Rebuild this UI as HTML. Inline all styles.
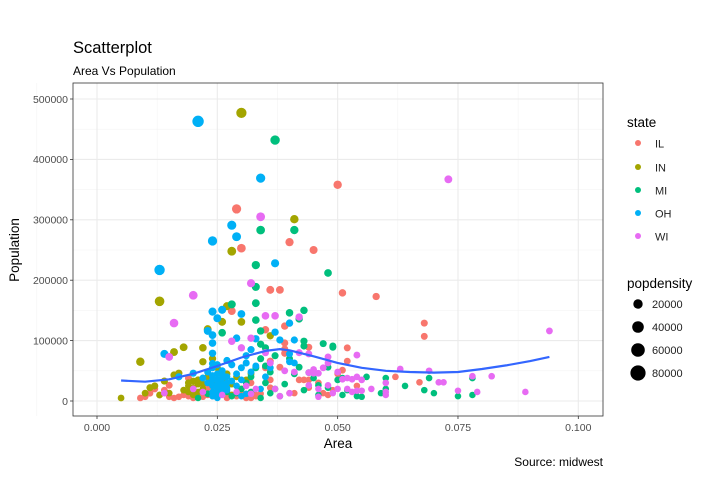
<!DOCTYPE html>
<html><head><meta charset="utf-8"><style>
body{margin:0;background:#fff;}
svg{display:block;font-family:"Liberation Sans",sans-serif;}
</style></head><body>
<svg id="chart" width="711" height="504" viewBox="0 0 711 504"></svg>
<script>
const xTicks=[0,0.025,0.05,0.075,0.1];
const xTickLabels=["0.000","0.025","0.050","0.075","0.100"];
const yTicks=[0,100000,200000,300000,400000,500000];
const yTickLabels=["0","100000","200000","300000","400000","500000"];
const states=["IL","IN","MI","OH","WI"];
const stateColors=["#F8766D","#A3A500","#00BF7D","#00B0F6","#E76BF3"];
const sizeLegendValues=[20000,40000,60000,80000];
const ilArea=[0.029,0.050,0.040,0.030,0.045,0.036,0.038,0.051,0.028,0.035,0.039,0.039,0.044,0.052,0.058,0.068,0.068,0.052,0.051,0.062,0.067,0.049,0.044,0.035,0.036,0.036,0.039,0.039,0.042,0.043,0.044,0.040,0.041,0.038,0.036,0.009,0.010,0.011,0.013,0.014,0.015,0.017,0.019,0.021,0.022,0.019,0.023,0.027,0.028,0.030,0.031,0.025,0.026,0.033,0.034,0.032,0.046,0.048,0.054,0.047,0.050,0.015,0.012,0.018,0.016,0.020,0.024,0.029,0.032,0.033,0.027,0.023];
const ilPop=[318000,358000,263000,253000,250000,184000,184000,179000,149000,118000,124000,96000,89000,88000,173000,129000,107000,66000,51000,40000,31000,18000,22000,55000,35000,22000,86000,79000,35000,35000,35000,13000,13000,56000,66000,5000,7000,13000,10000,18000,7000,7000,8000,7000,7000,38000,22000,8000,10000,12000,5000,10000,20000,10000,12000,30000,30000,10000,25000,13000,45000,26000,20000,10000,5000,5000,8000,8000,5000,8000,5000,10000];
const inArea=[0.030,0.041,0.028,0.013,0.027,0.026,0.030,0.023,0.036,0.018,0.016,0.009,0.022,0.022,0.005,0.011,0.012,0.010,0.014,0.017,0.016,0.019,0.020,0.021,0.022,0.023,0.024,0.021,0.018,0.026,0.027,0.028,0.029,0.025,0.024,0.020,0.030,0.031,0.032,0.015,0.013,0.026,0.028,0.019,0.020,0.021,0.022,0.019];
const inPop=[477000,301000,248000,165000,157000,131000,131000,119000,108000,89000,81000,65000,88000,65000,5000,22000,25000,13000,33000,46000,43000,25000,33000,28000,20000,40000,30000,15000,18000,35000,45000,28000,40000,55000,70000,10000,20000,35000,45000,13000,10000,15000,10000,30000,22000,35000,28000,15000];
const miArea=[0.037,0.034,0.041,0.033,0.048,0.033,0.033,0.028,0.033,0.040,0.043,0.042,0.026,0.034,0.034,0.043,0.049,0.047,0.043,0.049,0.048,0.050,0.051,0.056,0.069,0.064,0.060,0.059,0.068,0.070,0.075,0.078,0.078,0.046,0.048,0.051,0.054,0.055,0.042,0.044,0.040,0.037,0.035,0.034,0.033,0.032,0.031,0.030,0.029,0.028,0.035,0.036,0.037,0.038,0.034,0.025,0.023,0.021,0.027,0.032,0.039,0.041,0.045,0.046,0.043,0.060,0.052,0.036,0.035];
const miPop=[432000,283000,283000,225000,212000,189000,162000,160000,134000,146000,150000,136000,113000,116000,94000,91000,89000,95000,99000,91000,56000,35000,38000,40000,38000,25000,38000,13000,18000,13000,8000,38000,10000,26000,22000,10000,8000,7000,56000,47000,70000,75000,88000,70000,55000,40000,30000,20000,13000,8000,30000,13000,20000,8000,5000,25000,12000,5000,15000,15000,28000,45000,38000,10000,18000,20000,18000,48000,58000];
const ohArea=[0.021,0.034,0.028,0.029,0.024,0.013,0.037,0.024,0.026,0.030,0.025,0.040,0.023,0.024,0.037,0.033,0.029,0.024,0.041,0.014,0.024,0.038,0.040,0.040,0.041,0.036,0.024,0.025,0.026,0.024,0.025,0.026,0.027,0.023,0.025,0.026,0.024,0.027,0.028,0.029,0.030,0.031,0.029,0.030,0.032,0.033,0.024,0.025,0.022,0.023,0.028,0.031,0.032,0.020,0.017,0.027,0.035,0.034,0.031,0.030,0.025,0.026,0.024,0.025,0.026,0.027,0.025,0.024,0.026,0.025,0.027,0.024];
const ohPop=[463000,369000,291000,272000,265000,217000,228000,148000,151000,144000,137000,129000,116000,109000,114000,103000,104000,96000,101000,78000,79000,101000,78000,65000,63000,55000,25000,35000,28000,15000,20000,12000,40000,30000,45000,50000,55000,22000,33000,45000,55000,63000,25000,35000,48000,58000,8000,5000,38000,48000,60000,75000,85000,46000,40000,67000,40000,20000,12000,8000,28000,22000,42000,15000,38000,30000,60000,62000,45000,10000,18000,35000];
const wiArea=[0.073,0.034,0.020,0.032,0.035,0.037,0.042,0.016,0.032,0.028,0.015,0.094,0.042,0.044,0.048,0.048,0.054,0.044,0.045,0.046,0.050,0.047,0.045,0.063,0.069,0.071,0.072,0.078,0.082,0.079,0.075,0.089,0.060,0.060,0.060,0.057,0.053,0.052,0.054,0.055,0.051,0.050,0.046,0.048,0.049,0.052,0.053,0.054,0.055,0.046,0.044,0.041,0.039,0.036,0.035,0.030,0.031,0.033,0.020,0.022,0.014,0.026,0.032,0.029,0.037,0.038,0.040];
const wiPop=[367000,305000,175000,195000,141000,141000,139000,129000,104000,99000,73000,116000,80000,78000,73000,63000,76000,47000,46000,46000,48000,55000,52000,53000,50000,31000,31000,41000,41000,15000,17000,15000,30000,15000,10000,20000,36000,38000,40000,35000,36000,20000,20000,26000,13000,20000,15000,17000,17000,7000,26000,48000,50000,63000,80000,88000,25000,20000,20000,15000,13000,10000,12000,15000,20000,8000,13000];
const smoothArea=[0.005,0.010,0.015,0.020,0.025,0.030,0.035,0.038,0.040,0.045,0.050,0.055,0.060,0.065,0.070,0.075,0.080,0.085,0.090,0.094];
const smoothPop=[34000,32000,36000,45000,58000,72000,83000,86000,84000,74000,63000,55000,50000,48000,47000,48000,53000,59000,66000,73000];

const NS="http://www.w3.org/2000/svg";
const svg=document.getElementById('chart');
const L=73,R=603,T=83,B=416;
const sx=v=>97+v*4813;
const sy=v=>401-v/100000*60.4;
function mk(tag,attrs,parent){const e=document.createElementNS(NS,tag);for(const k in attrs)e.setAttribute(k,attrs[k]);(parent||svg).appendChild(e);return e;}
function txt(s,attrs,parent){const e=mk('text',attrs,parent);e.textContent=s;return e;}

const grid=mk('g',{});


for(let i=0;i<xTicks.length-1;i++){const m=(xTicks[i]+xTicks[i+1])/2;mk('line',{x1:sx(m),x2:sx(m),y1:T,y2:B,stroke:'#f3f3f3','stroke-width':0.6},grid);}
mk('line',{x1:sx(-0.0125),x2:sx(-0.0125),y1:T,y2:B,stroke:'#f3f3f3','stroke-width':0.6},grid);
for(let i=0;i<yTicks.length;i++){const m=yTicks[i]+50000;if(sy(m)>T)mk('line',{x1:L,x2:R,y1:sy(m),y2:sy(m),stroke:'#f3f3f3','stroke-width':0.6},grid);}
xTicks.forEach(v=>mk('line',{x1:sx(v),x2:sx(v),y1:T,y2:B,stroke:'#ebebeb','stroke-width':1.1},grid));
yTicks.forEach(v=>mk('line',{x1:L,x2:R,y1:sy(v),y2:sy(v),stroke:'#ebebeb','stroke-width':1.1},grid));

const pts=mk('g',{});


const groups=[[ilArea,ilPop],[inArea,inPop],[miArea,miPop],[ohArea,ohPop],[wiArea,wiPop]];
groups.forEach((g,si)=>{
  g[0].forEach((a,i)=>{
    const p=g[1][i];
    const dens=p/a/1e6;
    const c=mk('circle',{cx:sx(a),cy:sy(p),r:Math.sqrt(10.5+dens),fill:stateColors[si]},pts);
    
    
  });
});

let d='';smoothArea.forEach((a,i)=>{d+=(i?'L':'M')+sx(a).toFixed(1)+','+sy(smoothPop[i]).toFixed(1);});
const sm=mk('path',{d:d,fill:'none',stroke:'#3366FF','stroke-width':2.2,'stroke-linejoin':'round'});



const border=mk('rect',{x:L,y:T,width:R-L,height:B-T,fill:'none',stroke:'#333333','stroke-width':0.8});



const xa=mk('g',{});


xTicks.forEach((v,i)=>{mk('line',{x1:sx(v),x2:sx(v),y1:B,y2:B+3,stroke:'#333','stroke-width':0.8},xa);
  const t=txt(xTickLabels[i],{x:sx(v),y:B+15,'text-anchor':'middle','font-size':10.5,fill:'#4d4d4d'},xa);
  
  });
const ya=mk('g',{});


yTicks.forEach((v,i)=>{mk('line',{x1:L-3,x2:L,y1:sy(v),y2:sy(v),stroke:'#333','stroke-width':0.8},ya);
  const t=txt(yTickLabels[i],{x:L-5,y:sy(v)+3.8,'text-anchor':'end','font-size':10.5,fill:'#4d4d4d'},ya);
  
  });
</script>
<script>
(function(){
const s=document.getElementById('chart');
s.insertAdjacentHTML('beforeend',`
<text x="73" y="53" font-size="16.5" fill="#000">Scatterplot</text>
<text x="73" y="75" font-size="12" fill="#000">Area Vs Population</text>
<text x="338" y="448" font-size="13.5" text-anchor="middle" fill="#000">Area</text>
<text transform="translate(19,250) rotate(-90)" font-size="13.5" text-anchor="middle" fill="#000">Population</text>
<text x="603" y="466" font-size="12" text-anchor="end" fill="#000">Source: midwest</text>
<g>
<text x="627" y="127" font-size="13.5">state</text>
<circle cx="638" cy="143" r="3" fill="#F8766D"/><text x="655" y="147.5" font-size="11" fill="#222">IL</text>
<circle cx="638" cy="167" r="3" fill="#A3A500"/><text x="655" y="171.5" font-size="11" fill="#222">IN</text>
<circle cx="638" cy="190" r="3" fill="#00BF7D"/><text x="655" y="194.5" font-size="11" fill="#222">MI</text>
<circle cx="638" cy="213" r="3" fill="#00B0F6"/><text x="655" y="217.5" font-size="11" fill="#222">OH</text>
<circle cx="638" cy="236" r="3" fill="#E76BF3"/><text x="655" y="240.5" font-size="11" fill="#222">WI</text>
</g>
<g>
<text x="627" y="288" font-size="13.5">popdensity</text>
<circle cx="638" cy="304" r="4.7" fill="#000"/><text x="652" y="308" font-size="11" fill="#222">20000</text>
<circle cx="638" cy="327" r="5.8" fill="#000"/><text x="652" y="331" font-size="11" fill="#222">40000</text>
<circle cx="638" cy="350" r="6.8" fill="#000"/><text x="652" y="354" font-size="11" fill="#222">60000</text>
<circle cx="638" cy="373" r="7.6" fill="#000"/><text x="652" y="377" font-size="11" fill="#222">80000</text>
</g>`);
})();
</script>
</body></html>
